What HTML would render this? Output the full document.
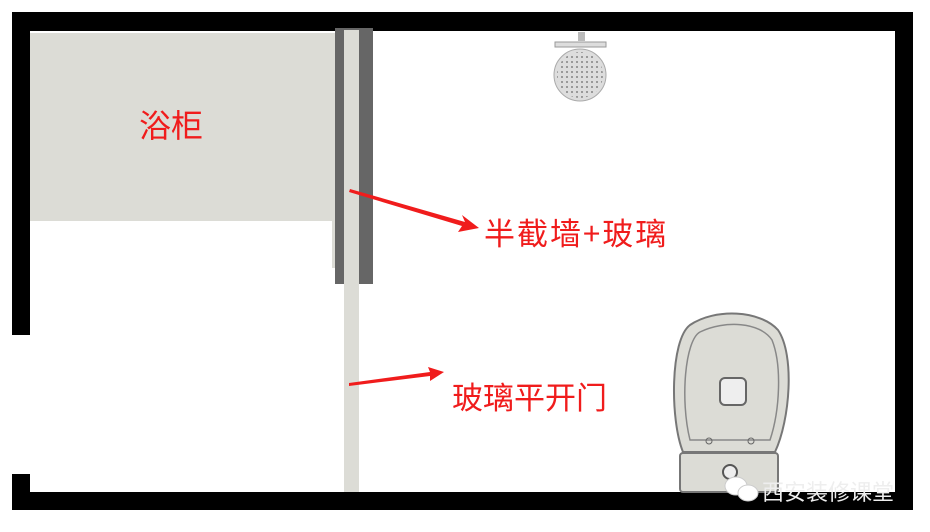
<!DOCTYPE html>
<html><head><meta charset="utf-8"><style>
body{margin:0;width:930px;height:532px;background:#fff;position:relative;overflow:hidden;font-family:"Liberation Sans","Noto Sans CJK SC",sans-serif}
.b{position:absolute;background:#000}
.t{position:absolute;color:#f01c1c;font-size:31px;white-space:nowrap;line-height:1;font-family:"Noto Sans CJK SC",sans-serif}
</style></head><body>
<div class="b" style="left:12px;top:12px;width:901px;height:19px"></div>
<div class="b" style="left:895px;top:12px;width:18px;height:498px"></div>
<div class="b" style="left:12px;top:12px;width:18px;height:323px"></div>
<div class="b" style="left:12px;top:474px;width:18px;height:36px"></div>
<div class="b" style="left:12px;top:492px;width:901px;height:18px"></div>
<div style="position:absolute;left:30px;top:33px;width:302px;height:188px;background:#dcdcd6"></div>
<div style="position:absolute;left:332px;top:33px;width:3px;height:235px;background:#dcdcd6"></div>
<div style="position:absolute;left:335px;top:28px;width:38px;height:256px;background:#666"></div>
<div style="position:absolute;left:344px;top:30px;width:15px;height:462px;background:#dcdcd6"></div>
<div class="t" style="left:139px;top:108px;font-size:32px">浴柜</div>
<div class="t" style="left:484px;top:216px;letter-spacing:2px">半截墙+玻璃</div>
<div class="t" style="left:452px;top:380px">玻璃平开门</div>
<svg width="930" height="532" style="position:absolute;left:0;top:0">
<defs><pattern id="d" width="5" height="5" patternUnits="userSpaceOnUse"><rect x="1" y="1" width="2" height="2" fill="#999"/></pattern></defs>
<polygon points="350,189 465,222 462,215 479,228 458,232 462,226 349,192" fill="#f01c1c"/>
<polygon points="349,383 430,372 428,367 444,372 430,381 430,376 349,386" fill="#f01c1c"/>
<rect x="578" y="32" width="7" height="9" fill="#bbb"/>
<rect x="555" y="42" width="51" height="5" fill="#ddd" stroke="#999"/>
<circle cx="580" cy="75" r="26" fill="#ddd" stroke="#aaa"/>
<circle cx="580" cy="75" r="23" fill="url(#d)"/>
<path d="M683,452 C670,420 670,340 690,325 C715,308 760,310 778,330 C795,355 790,420 775,452 Z" fill="#dcdcd6" stroke="#777" stroke-width="2"/>
<path d="M690,440 C680,400 685,340 700,332 C725,320 760,322 772,340 C782,365 780,410 770,440 Z" fill="none" stroke="#888" stroke-width="1.5"/>
<rect x="720" y="378" width="26" height="27" rx="5" fill="#eee" stroke="#666" stroke-width="2"/>
<circle cx="709" cy="441" r="3" fill="none" stroke="#666"/><circle cx="751" cy="441" r="3" fill="none" stroke="#666"/>
<rect x="680" y="453" width="98" height="39" rx="3" fill="#dcdcd6" stroke="#777" stroke-width="2"/>
<circle cx="730" cy="472" r="7" fill="#eee" stroke="#555" stroke-width="2"/>
<ellipse cx="736" cy="486" rx="11" ry="9" fill="#fff" stroke="#ccc"/>
<ellipse cx="748" cy="493" rx="10" ry="8" fill="#fff" stroke="#ccc"/>
<text x="762" y="500" font-size="22" fill="#eee" font-family="Noto Sans CJK SC,sans-serif">西安装修课堂</text>
</svg>
</body></html>
